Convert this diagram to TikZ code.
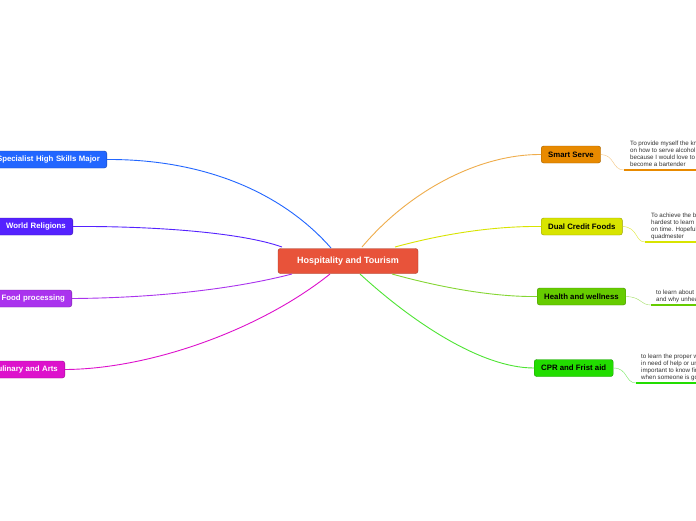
\documentclass[tikz,border=0pt]{standalone}
\usepackage{fontspec}
\setmainfont{Liberation Sans}
\begin{document}
\begin{tikzpicture}[x=1pt,y=-1pt,
 topic/.style={draw=#1!70!black,fill=#1,rounded corners=2.5pt,minimum height=17pt,font=\bfseries\fontsize{7.8}{9}\selectfont,inner xsep=7pt},
 note/.style={anchor=north west,align=left,font=\fontsize{6.2}{7}\selectfont,text=black!80,inner sep=0pt},
 link/.style={line width=0.9pt}]
\clip (0,0) rectangle (696,520);
\fill[white] (0,0) rectangle (696,520);
\definecolor{cred}{HTML}{E8533A}
\definecolor{cblue}{HTML}{2266FF}
\definecolor{cviol}{HTML}{5522FF}
\definecolor{cpurp}{HTML}{AA33EE}
\definecolor{cmag}{HTML}{DD11CC}
\definecolor{corg}{HTML}{E88A00}
\definecolor{cyel}{HTML}{D8E400}
\definecolor{cgrn}{HTML}{66CC00}
\definecolor{clim}{HTML}{22DD00}
% nodes
\node[topic=cred,text=white,minimum height=25pt,minimum width=140pt,font=\bfseries\fontsize{9}{10}\selectfont] (c) at (348,261) {Hospitality and Tourism};
\node[topic=cblue,text=white,anchor=east,minimum width=125pt,align=right,text width=111pt] (a1) at (107,159.5) {Specialist High Skills Major};
\node[topic=cviol,text=white,anchor=east,minimum width=95pt,align=right,text width=81pt] (a2) at (73,226.5) {World Religions};
\node[topic=cpurp,text=white,anchor=east,minimum width=95pt,align=right,text width=81pt] (a3) at (72,298.5) {Food processing};
\node[topic=cmag,text=white,anchor=east,minimum width=95pt,align=right,text width=81pt] (a4) at (65,369.5) {Culinary and Arts};
\node[topic=corg,anchor=west] (b1) at (541,154.5) {Smart Serve};
\node[topic=cyel,anchor=west] (b2) at (541,226.5) {Dual Credit Foods};
\node[topic=cgrn,anchor=west] (b3) at (537,296.5) {Health and wellness};
\node[topic=clim,anchor=west] (b4) at (534,368) {CPR and Frist aid};
% notes
\node[note] (n1) at (630,141) {To provide myself the knowledge\\on how to serve alcohol properly\\because I would love to one day\\become a bartender};
\node[note] (n2) at (651,213) {To achieve the best grade I can\\hardest to learn and to hand in\\on time. Hopefully to get a good\\quadmester};
\node[note] (n3) at (656,290) {to learn about healthy foods\\and why unhealthy foods are bad};
\node[note] (n4) at (641,354) {to learn the proper way to help\\in need of help or unconscious\\important to know first aid\\when someone is going through};
\coordinate (u1) at (624,170); \coordinate (v1) at (700,170);
\coordinate (u2) at (645,242); \coordinate (v2) at (700,242);
\coordinate (u3) at (651,305); \coordinate (v3) at (700,305);
\coordinate (u4) at (636,383); \coordinate (v4) at (700,383);
\coordinate (s1) at (331,248); \coordinate (s2) at (282,247); \coordinate (s3) at (292,274); \coordinate (s4) at (330,274);
\coordinate (t1) at (362,247); \coordinate (t2) at (395,247); \coordinate (t3) at (392,274); \coordinate (t4) at (360,274);
% connectors
\draw[link,cblue] (s1) .. controls (280,190) and (200,159) .. (a1.east);
\draw[link,cviol] (s2) .. controls (240,232) and (150,226) .. (a2.east);
\draw[link,cpurp] (s3) .. controls (230,290) and (150,298) .. (a3.east);
\draw[link,cmag] (s4) .. controls (260,330) and (150,369) .. (a4.east);
\draw[link,corg!70] (t1) .. controls (410,190) and (480,154) .. (b1.west);
\draw[link,cyel] (t2) .. controls (450,232) and (500,226) .. (b2.west);
\draw[link,cgrn!80] (t3) .. controls (450,290) and (500,297) .. (b3.west);
\draw[link,clim!80] (t4) .. controls (410,320) and (480,368) .. (b4.west);
\draw[corg!50] (b1.east) .. controls (615,155) and (612,170) .. (u1);
\draw[cyel!80] (b2.east) .. controls (638,227) and (635,242) .. (u2);
\draw[cgrn!60] (b3.east) .. controls (642,297) and (640,305) .. (u3);
\draw[clim!60] (b4.east) .. controls (628,368) and (625,383) .. (u4);
\draw[line width=2pt,corg] (u1) -- (v1);
\draw[line width=2pt,cyel] (u2) -- (v2);
\draw[line width=2pt,cgrn] (u3) -- (v3);
\draw[line width=2pt,clim] (u4) -- (v4);
\end{tikzpicture}
\end{document}
